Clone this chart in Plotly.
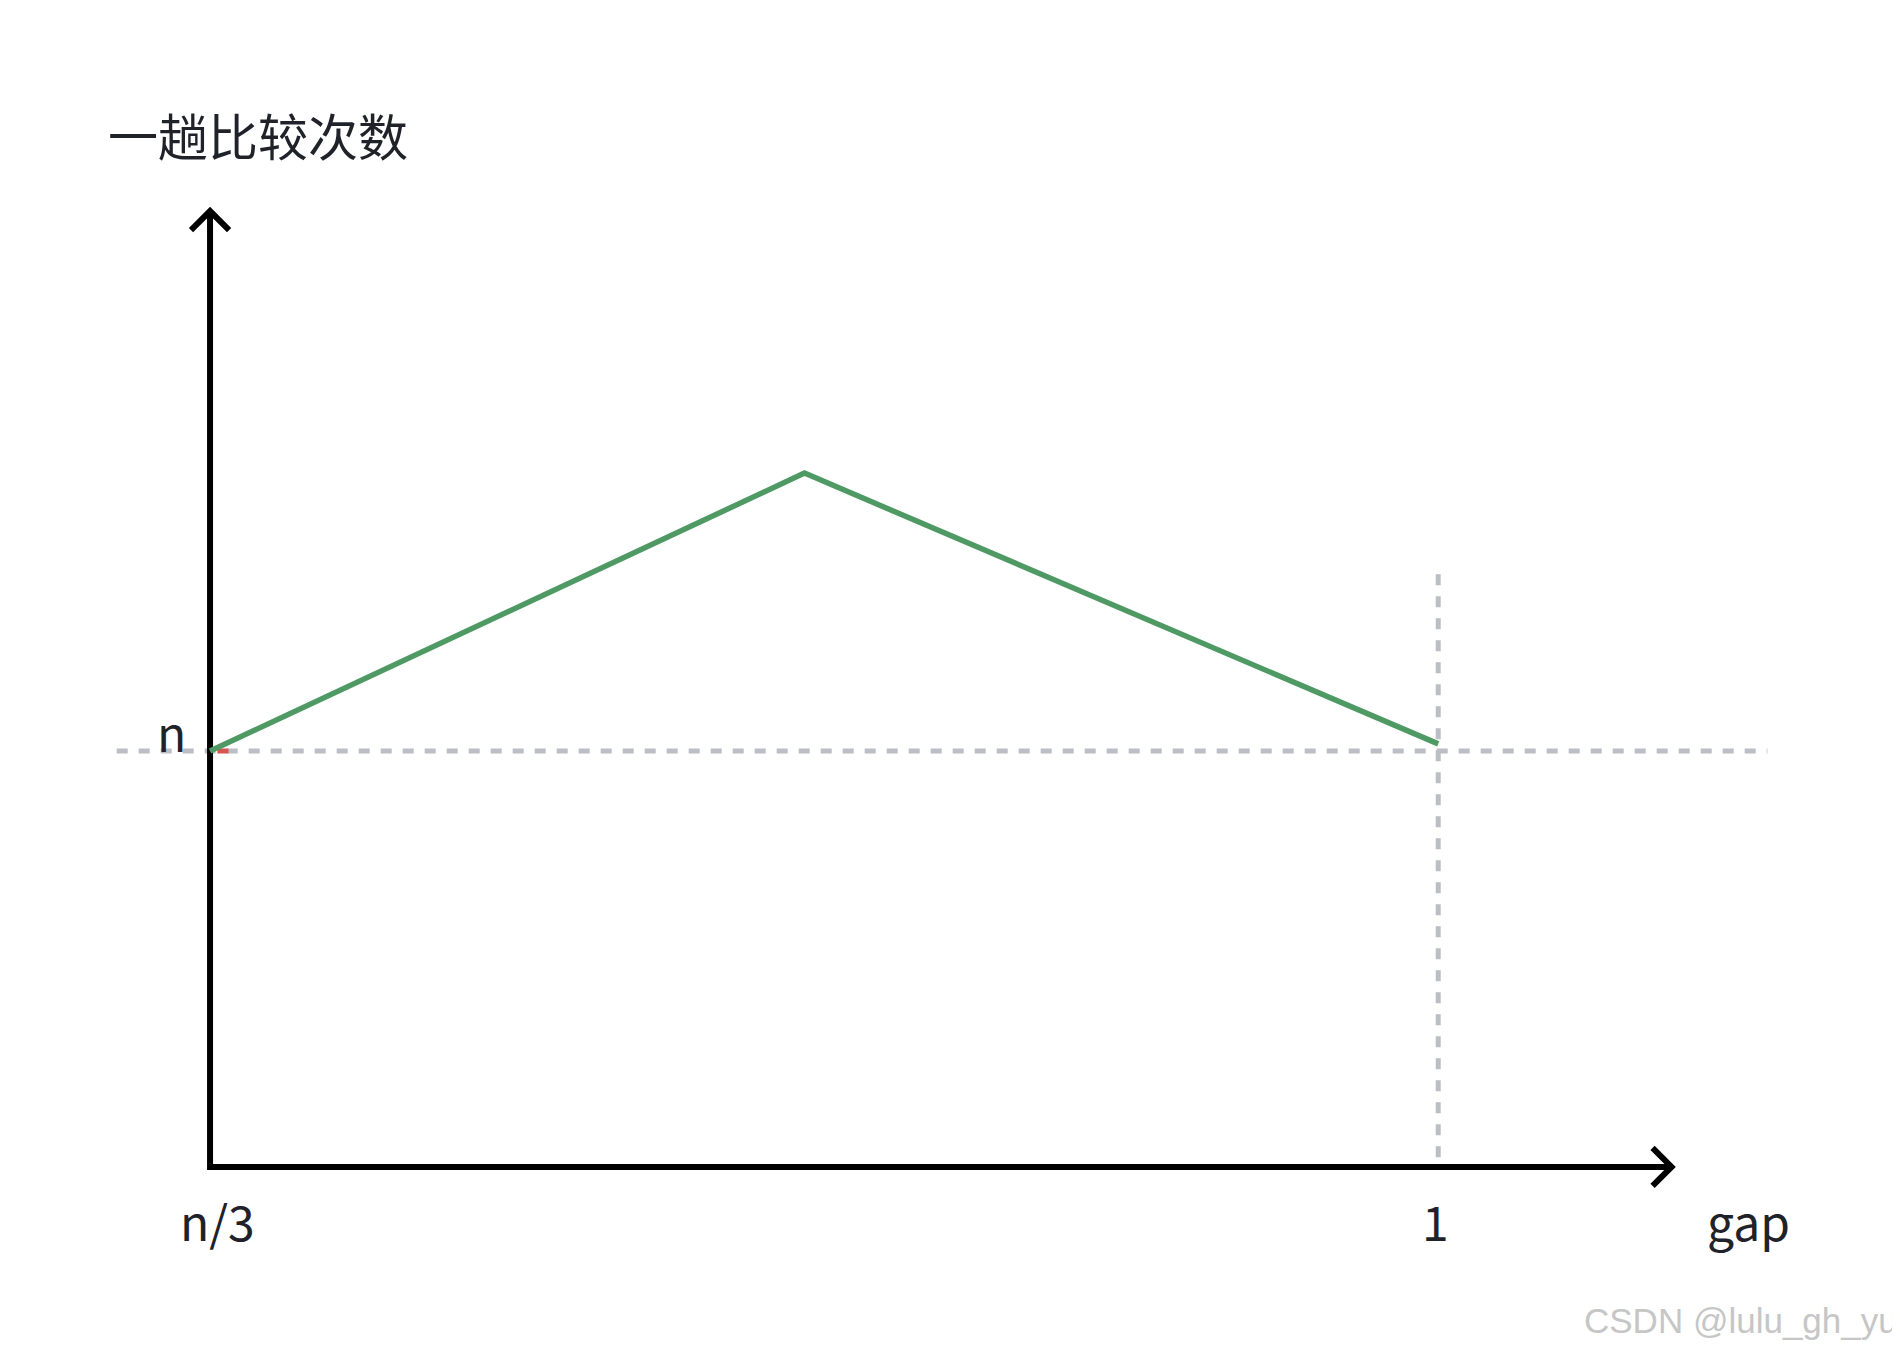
import plotly.graph_objs as go

# 一趟比较次数 vs gap (conceptual sketch)
# x: 0 -> gap = n/3 , 1 -> gap = 1 ; y: 1 -> n comparisons
gap_x = [0.0, 0.484, 1.0]
compare_y = [1.0, 1.668, 1.017]

tick_pos = [0.0, 1.0]
tick_text = ['n/3', '1']
n_level = 1.0
y_title = '一趟比较次数'
x_title = 'gap'
watermark = 'CSDN @lulu_gh_yu'

x_end = 1.190     # x axis arrow tip
y_end = 2.298     # y axis arrow tip
guide_left = -0.076
guide_right = 1.268
guide_top = 1.425

txt = '#1f2329'
font = 'Noto Sans CJK SC'
dash_col = '#bbbec4'

fig = go.Figure()

# dashed guide lines
fig.add_trace(go.Scatter(x=[guide_left, guide_right], y=[n_level, n_level], mode='lines',
                         line=dict(color=dash_col, width=5, dash='11px,11px')))
fig.add_trace(go.Scatter(x=[tick_pos[1], tick_pos[1]], y=[guide_top, 0], mode='lines',
                         line=dict(color=dash_col, width=5, dash='11px,11px')))

# small red mark at start
fig.add_trace(go.Scatter(x=[0.006, 0.015], y=[n_level, n_level], mode='lines',
                         line=dict(color='#d9534f', width=5)))

# axes with open arrow heads
ax_w = 6
hx = 0.0155
hy = 0.0457
fig.add_trace(go.Scatter(x=[0, 0, x_end], y=[y_end, 0, 0], mode='lines',
                         line=dict(color='black', width=ax_w)))
fig.add_trace(go.Scatter(x=[-hx, 0, hx], y=[y_end - hy, y_end, y_end - hy], mode='lines',
                         line=dict(color='black', width=ax_w)))
fig.add_trace(go.Scatter(x=[x_end - hx, x_end, x_end - hx], y=[hy, 0, -hy], mode='lines',
                         line=dict(color='black', width=ax_w)))

# the curve
fig.add_trace(go.Scatter(x=gap_x, y=compare_y, mode='lines',
                         line=dict(color='#4f9a64', width=5.5)))

ann = []
nudge = [0.006, -0.002]
for p, t, d in zip(tick_pos, tick_text, nudge):
    ann.append(dict(x=p + d, y=-0.128, text=t, showarrow=False,
                    font=dict(family=font, size=48, color=txt)))
ann.append(dict(x=1.253, y=-0.128, text=x_title, showarrow=False,
                font=dict(family=font, size=48, color=txt)))
ann.append(dict(x=-0.031, y=n_level + 0.048, text='n', showarrow=False,
                font=dict(family=font, size=48, color=txt)))
ann.append(dict(x=0.039, y=2.483, text=y_title, showarrow=False,
                font=dict(family=font, size=50, color=txt)))
ann.append(dict(x=0.9958, y=0.0135, xref='paper', yref='paper', xanchor='right',
                text=watermark, showarrow=False,
                font=dict(family='Liberation Sans', size=35, color='#c6c6c6')))

fig.update_layout(
    width=1900, height=1352,
    margin=dict(l=0, r=0, t=0, b=0),
    plot_bgcolor='white', paper_bgcolor='white',
    showlegend=False,
    annotations=ann,
    xaxis=dict(range=[-0.1645, 1.3825], visible=False),
    yaxis=dict(range=[-0.464, 2.786], visible=False),
)

fig.write_html("out.html")
